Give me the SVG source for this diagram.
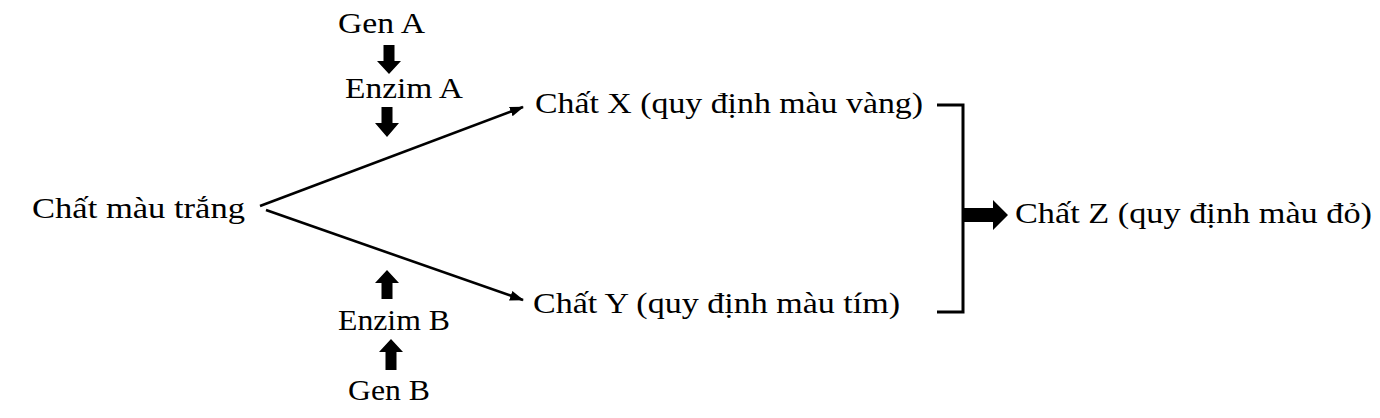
<svg xmlns="http://www.w3.org/2000/svg" width="1380" height="418" viewBox="0 0 1380 418">
<style>
text{font-family:"Liberation Serif","DejaVu Serif",serif;font-size:30px;fill:#000}
.ln{stroke:#000;stroke-width:2.6;fill:none}
.br{stroke:#000;stroke-width:3;fill:none}
.fat{fill:#000;stroke:none}
</style>
<defs>
<marker id="ah" markerUnits="userSpaceOnUse" markerWidth="14" markerHeight="10" refX="13" refY="5" orient="auto">
<path d="M0,0 L14,5 L0,10 Z" fill="#000"/>
</marker>
</defs>
<rect width="1380" height="418" fill="#fff"/>
<g id="genA"><text x="338" y="33" textLength="87" lengthAdjust="spacingAndGlyphs">Gen A</text></g>
<g id="enzimA"><text x="345" y="98" textLength="118" lengthAdjust="spacingAndGlyphs">Enzim A</text></g>
<g id="white"><text x="32" y="218" textLength="213" lengthAdjust="spacingAndGlyphs">Chất màu trắng</text></g>
<g id="chatX"><text x="535" y="113" textLength="388" lengthAdjust="spacingAndGlyphs">Chất X (quy định màu vàng)</text></g>
<g id="chatY"><text x="533" y="313" textLength="367" lengthAdjust="spacingAndGlyphs">Chất Y (quy định màu tím)</text></g>
<g id="chatZ"><text x="1015" y="223" textLength="357" lengthAdjust="spacingAndGlyphs">Chất Z (quy định màu đỏ)</text></g>
<g id="enzimB"><text x="338" y="330" textLength="112" lengthAdjust="spacingAndGlyphs">Enzim B</text></g>
<g id="genB"><text x="348" y="400" textLength="82" lengthAdjust="spacingAndGlyphs">Gen B</text></g>
<g id="connectors">
<path class="fat" d="M383.5,45 H394.5 V61 H401 L389,74 L377,61 H383.5 Z"/>
<path class="fat" d="M381.5,107 H392.5 V123 H399 L387,137 L375,123 H381.5 Z"/>
<path class="fat" d="M381.5,299 H392.5 V283 H399 L387,270 L375,283 H381.5 Z"/>
<path class="fat" d="M385.5,370 H396.5 V352 H403 L391,339 L379,352 H385.5 Z"/>
<line class="ln" x1="260" y1="206" x2="523" y2="107" marker-end="url(#ah)"/>
<line class="ln" x1="266" y1="210" x2="523" y2="300" marker-end="url(#ah)"/>
<path class="br" d="M937,105 H963 V312 H937"/>
<path class="fat" d="M963,208 H993 V200 L1008,215 L993,230 V222 H963 Z"/>
</g>
</svg>
